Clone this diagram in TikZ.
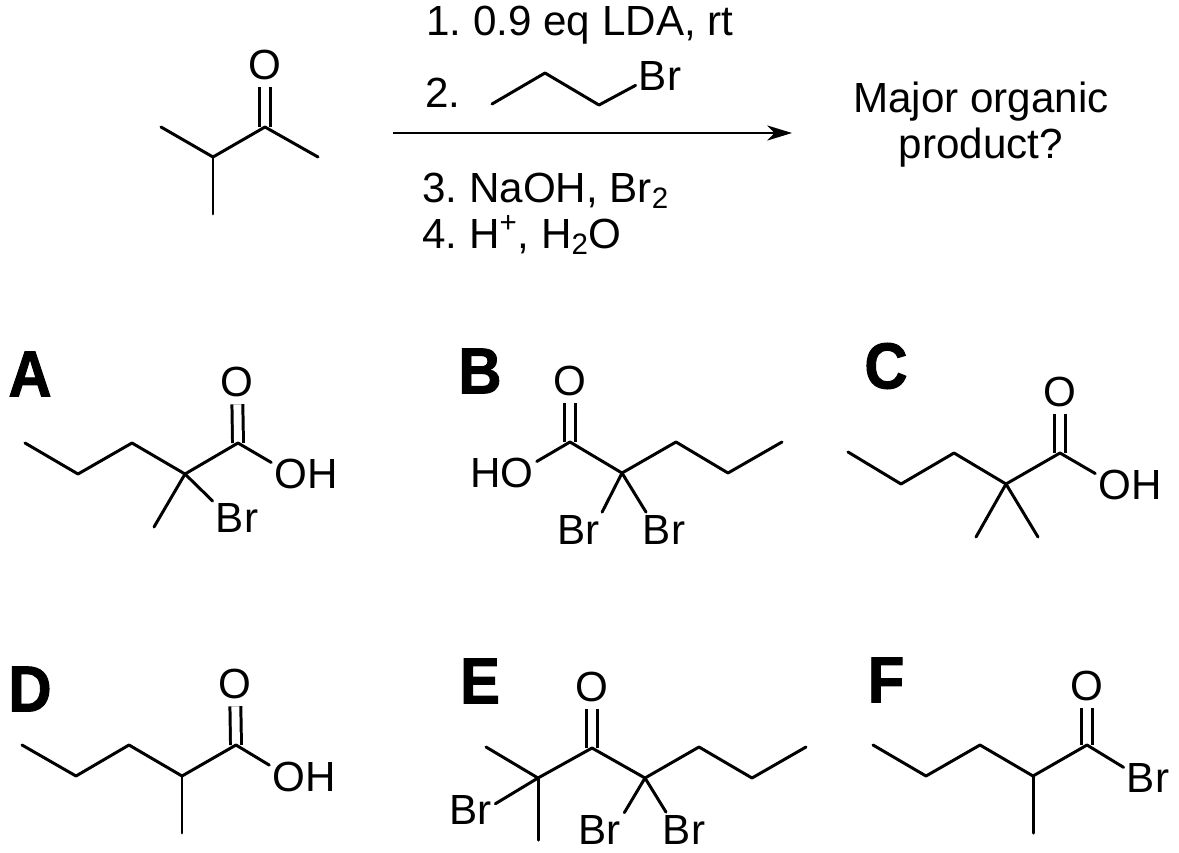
\documentclass[tikz,border=0pt]{standalone}
\usepackage{fontspec}
\setmainfont{Liberation Sans}
\newfontfamily\letterfont[FakeBold=1.5]{Liberation Sans Bold}
\usetikzlibrary{arrows.meta}
\frenchspacing
\tikzset{
  atom/.style={inner sep=1.7pt, font=\fontsize{24}{28}\selectfont},
  carbonyl/.style={atom, inner sep=4pt},
  step label/.style={inner sep=0pt, anchor=base west, font=\fontsize{24}{28}\selectfont},
  question/.style={inner sep=0pt, anchor=base, font=\fontsize{24}{28}\selectfont},
  choice/.style={inner sep=0pt, font=\fontsize{37}{42}\letterfont, transform shape, xscale=0.92},
  bond/.style={line width=1.7pt, line cap=round},
  double bond/.style={line width=1.7pt, double, double distance=4.5pt},
  reaction arrow/.style={line width=1.6pt, -{Stealth[length=14pt,width=8.5pt,inset=4pt]}}
}
\newcommand{\chemvertex}[2] {\coordinate (#2) at (#1);}
\newcommand{\chematom}[3] {\node at (#1) (#2) [atom] {#3};}
\newcommand{\chemoxygen}[2] {\node at (#1) (#2) [carbonyl] {O};}
\newcommand{\chembond}[2] {\draw [bond] (#1) -- (#2);}
\newcommand{\chemdouble}[2] {\draw [double bond] (#1) -- (#2);}
\newcommand{\choicelabel}[2] {\node at (#1) (choice#2) [choice] {#2};}
\begin{document}
\begin{tikzpicture}[x=0.02cm, y=-0.02cm]
\useasboundingbox (0,0) rectangle (1179,852);

% starting ketone
\chemvertex {161,127} {k1}
\chemvertex {213,157} {k2}
\chemvertex {213,214} {k3}
\chemvertex {265,127} {k4}
\chemvertex {318,157} {k5}
\chemoxygen {265,65} {ko}
\chemdouble {k4} {ko}
\chembond {k1} {k2}
\chembond {k2} {k3}
\chembond {k2} {k4}
\chembond {k4} {k5}

% conditions
\coordinate (arrowstart) at (393,133);
\coordinate (arrowend) at (792,133);
\draw [reaction arrow] (arrowstart) -- (arrowend);
\node at (426,35) (step1) [step label] {1. 0.9 eq LDA, rt};
\node at (425,107) (step2) [step label] {2.};
\chemvertex {492,104} {p1}
\chemvertex {545,73} {p2}
\chemvertex {599,105} {p3}
\chematom {653,76} {pbr} {B\rlap{r}}
\chembond {p1} {p2}
\chembond {p2} {p3}
\chembond {p3} {pbr}
\node at (422,202) (step3) [step label] {3. NaOH, Br\textsubscript{2}};
\node at (422,248) (step4) [step label] {4. H\textsuperscript{+}, H\textsubscript{2}O};
\node at (981,112) (major) [question] {Major organic};
\node at (981,158) (product) [question] {product?};

% A
\choicelabel {30,374} {A}
\chemvertex {25,443} {a1}
\chemvertex {78,474} {a2}
\chemvertex {132,443} {a3}
\chemvertex {185,474} {a4}
\chemvertex {238,443} {a5}
\chemvertex {154,527} {a6}
\chemoxygen {237,382} {ao}
\chematom {291,474} {aoh} {O\rlap{H}}
\chematom {230,518} {abr} {B\rlap{r}}
\chemdouble {a5} {ao}
\chembond {a1} {a2}
\chembond {a2} {a3}
\chembond {a3} {a4}
\chembond {a4} {a5}
\chembond {a5} {aoh}
\chembond {a4} {a6}
\chembond {a4} {abr}

% B
\choicelabel {480,371} {B}
\chemvertex {570,442} {b1}
\chemvertex {622,473} {b2}
\chemvertex {676,442} {b3}
\chemvertex {728,473} {b4}
\chemvertex {782,442} {b5}
\chemoxygen {570,381} {bo}
\chematom {517,473} {boh} {\llap{H}O}
\chematom {593,530} {bbr1} {\llap{B}r}
\chematom {657,530} {bbr2} {B\rlap{r}}
\chemdouble {b1} {bo}
\chembond {b1} {boh}
\chembond {b1} {b2}
\chembond {b2} {b3}
\chembond {b3} {b4}
\chembond {b4} {b5}
\chembond {b2} {bbr1}
\chembond {b2} {bbr2}

% C
\choicelabel {886,366} {C}
\chemvertex {848,452} {c1}
\chemvertex {901,484} {c2}
\chemvertex {954,453} {c3}
\chemvertex {1006,484} {c4}
\chemvertex {1060,453} {c5}
\chemvertex {976,537} {c6}
\chemvertex {1038,537} {c7}
\chemoxygen {1060,392} {co}
\chematom {1115,485} {coh} {O\rlap{H}}
\chemdouble {c5} {co}
\chembond {c1} {c2}
\chembond {c2} {c3}
\chembond {c3} {c4}
\chembond {c4} {c5}
\chembond {c5} {coh}
\chembond {c4} {c6}
\chembond {c4} {c7}

% D
\choicelabel {30,689} {D}
\chemvertex {22,745} {d1}
\chemvertex {76,776} {d2}
\chemvertex {129,745} {d3}
\chemvertex {182,776} {d4}
\chemvertex {236,745} {d5}
\chemvertex {182,833} {d6}
\chemoxygen {235,684} {do}
\chematom {289,777} {doh} {O\rlap{H}}
\chemdouble {d5} {do}
\chembond {d1} {d2}
\chembond {d2} {d3}
\chembond {d3} {d4}
\chembond {d4} {d5}
\chembond {d5} {doh}
\chembond {d4} {d6}

% E
\choicelabel {480,681} {E}
\chemvertex {486,747} {e1}
\chemvertex {538,778} {e2}
\chemvertex {538,840} {e3}
\chemvertex {592,748} {e4}
\chemvertex {645,778} {e5}
\chemvertex {699,747} {e6}
\chemvertex {752,778} {e7}
\chemvertex {806,747} {e8}
\chemoxygen {592,687} {eo}
\chematom {485,810} {ebr1} {\llap{B}r}
\chematom {614,830} {ebr2} {\llap{B}r}
\chematom {677,830} {ebr3} {B\rlap{r}}
\chemdouble {e4} {eo}
\chembond {e1} {e2}
\chembond {e2} {e3}
\chembond {e2} {e4}
\chembond {e4} {e5}
\chembond {e5} {e6}
\chembond {e6} {e7}
\chembond {e7} {e8}
\chembond {e2} {ebr1}
\chembond {e5} {ebr2}
\chembond {e5} {ebr3}

% F
\choicelabel {886,680} {F}
\chemvertex {873,745} {f1}
\chemvertex {926,776} {f2}
\chemvertex {980,745} {f3}
\chemvertex {1033,776} {f4}
\chemvertex {1087,745} {f5}
\chemvertex {1033,833} {f6}
\chemoxygen {1087,686} {fo}
\chematom {1141,778} {fbr} {B\rlap{r}}
\chemdouble {f5} {fo}
\chembond {f1} {f2}
\chembond {f2} {f3}
\chembond {f3} {f4}
\chembond {f4} {f5}
\chembond {f5} {fbr}
\chembond {f4} {f6}
\end{tikzpicture}
\end{document}
